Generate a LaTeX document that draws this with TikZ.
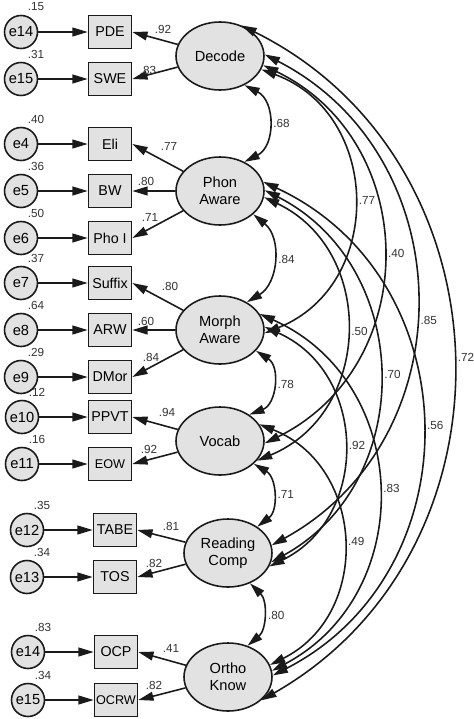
\documentclass[tikz,border=0pt]{standalone}
\usepackage{fontspec}
\setmainfont{Liberation Sans}
\usepackage{tikz}
\usetikzlibrary{shapes.geometric,arrows.meta}
\definecolor{boxfill}{HTML}{E2E2E2}
\definecolor{ink}{HTML}{1A1A1A}
\definecolor{numtext}{HTML}{333333}

\begin{document}
\begin{tikzpicture}[x=0.03cm,y=-0.03cm,line width=1.35pt,
  >={Triangle[length=13pt,width=7.5pt]},
  factor/.style={ellipse,draw=ink,fill=boxfill,minimum width=2.64cm,minimum height=2.04cm,
                 inner sep=0pt,align=center,font=\fontsize{12.5}{14.5}\selectfont},
  obs/.style={rectangle,draw=ink,fill=boxfill,minimum width=1.29cm,minimum height=0.99cm,inner sep=0pt},
  err/.style={circle,draw=ink,fill=boxfill,minimum size=0.99cm,inner sep=0pt,font=\fontsize{12.5}{14}\selectfont},
  num/.style={inner sep=1.5pt,text=numtext,font=\fontsize{10}{12}\selectfont},
  load/.style={->,draw=ink},
  cov/.style={<->,draw=ink}]
  \useasboundingbox (0,0) rectangle (474,719);
  % latent factors
  \node[factor] (decode) at (220,56) {Decode};
  \node[factor] (phon) at (220,191) {Phon\\Aware};
  \node[factor] (morph) at (220,330) {Morph\\Aware};
  \node[factor] (vocab) at (220,441) {Vocab};
  \node[factor] (read) at (228,553) {Reading\\Comp};
  \node[factor] (ortho) at (228,677) {Ortho\\Know};
  % indicator / text / y / error / variance / error x / box x / font size
  \foreach \ob/\tx/\yy/\er/\vr/\ex/\bx/\fs in {pde/PDE/32/e14/.15/21/110/12.2,swe/SWE/79/e15/.31/21/110/12.2,
      eli/Eli/144/e4/.40/21/110/12.2,bw/BW/191/e5/.36/21/110/12.2,phoi/Pho I/238/e6/.50/21/110/12.2,
      suffix/Suffix/283/e7/.37/21/110/12.2,arw/ARW/330/e8/.64/21/110/12.2,dmor/DMor/377/e9/.29/21/110/12.2,
      ppvt/PPVT/417/e10/.12/22/110/12.2,eow/EOW/464/e11/.16/22/110/10.8,tabe/TABE/530/e12/.35/27/115/12.2,
      tos/TOS/577/e13/.34/27/115/12.2,ocp/OCP/652/e14/.83/28/116/12.2,ocrw/OCRW/700/e15/.34/28/116/10.8}{
    \node[obs,font=\fontsize{\fs}{14}\selectfont] (\ob) at (\bx,\yy) {\tx};
    \node[err] (e-\ob) at (\ex,\yy) {\er};
    \node[num] (v-\ob) at (\ex+15,\yy-25) {\vr};
    \draw[load] (e-\ob) -- (\ob);
  }
  % factor / indicator / loading / label x / label y
  \foreach \fa/\ob/\ld/\lx/\ly in {decode/pde/.92/163/29,decode/swe/.83/148/70,phon/eli/.77/169/146,
      phon/bw/.80/146/181,phon/phoi/.71/150/217,morph/suffix/.80/170/286,morph/arw/.60/146/321,
      morph/dmor/.84/151/357,vocab/ppvt/.94/167/412,vocab/eow/.92/149/449,read/tabe/.81/171/526,
      read/tos/.82/154/563,ortho/ocp/.41/171/648,ortho/ocrw/.82/154/685}{
    \draw[load] (\fa) -- (\ob.east);
    \node[num] (l-\ob) at (\lx,\ly) {\ld};
  }
  % from / to / anchor out / anchor in / bend / looseness / label pos / correlation
  \foreach \fa/\fb/\aa/\ab/\bd/\lo/\ps/\cv in {decode/phon/-50/50/63/1.17/.5/.68,phon/morph/-35/46/55/1.08/.5/.84,
      morph/vocab/-30/42/63/1.17/.5/.78,vocab/read/-34/42/56/1.09/.5/.71,read/ortho/-54/58/48/1.02/.5/.80,
      decode/morph/-18/-4/69/1.25/.5/.77,decode/vocab/-12/-3/64/1.19/.5/.40,decode/read/2/10/62/1.16/.54/.85,
      decode/ortho/55/-35/62/1.15/.5/.72,phon/vocab/-8/-28/66/1.21/.5/.50,phon/read/1/-12/62/1.15/.5/.70,
      phon/ortho/12/2/64/1.18/.5/.56,morph/read/4/-18/65/1.2/.5/.92,morph/ortho/22/8/64/1.19/.5/.83,
      vocab/ortho/23/16/66/1.21/.5/.49}{
    \draw[cov] (\fa.\aa) to[bend left=\bd,looseness=\lo] node[num,pos=\ps,right=2.5pt] (c-\fa-\fb) {\cv} (\fb.\ab);
  }
\end{tikzpicture}
\end{document}
